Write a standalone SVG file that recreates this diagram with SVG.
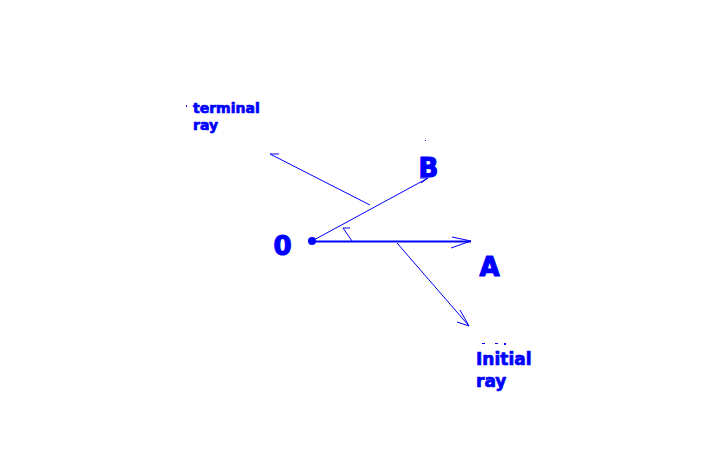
<svg xmlns="http://www.w3.org/2000/svg" width="715" height="464" viewBox="0 0 715 464">
<style>
.t{font-family:"DejaVu Sans","Liberation Sans",sans-serif;font-weight:bold;fill:#0000ff;stroke:#0000ff;stroke-width:0.7;stroke-linejoin:round}
.big{font-size:26px;stroke-width:1.2}
.ln{stroke:#0000ff;stroke-width:1;fill:none}
</style>
<rect width="715" height="464" fill="#fff"/>
<g id="connectors">
<path class="ln" d="M270,154 L370,205"/>
<path class="ln" d="M270,154 L279,154"/>
<path class="ln" d="M312,241 L428,178"/>
<path class="ln" d="M420,178 L428,178 L421,183"/>
<path class="ln" style="stroke-width:2" d="M312,241.5 L471,241.5"/>
<path class="ln" d="M452,237 L471,241 L451,248"/>
<path class="ln" d="M397,243 L469,326"/>
<path class="ln" d="M460,310 L469,326 L457,322"/>
<path class="ln" d="M352,241 L343,228"/>
<path class="ln" d="M343,228 L350,228"/>
</g>
<g id="node-O">
<circle cx="312" cy="241" r="4" fill="#0000ff"/>
<text class="t big" x="273.5" y="255">0</text>
</g>
<g id="node-A">
<text class="t big" x="479.5" y="276">A</text>
</g>
<g id="node-B">
<text class="t big" x="418.5" y="177">B</text>
</g>
<g id="label-terminal">
<rect x="186" y="105" width="1" height="2" fill="#0000ff"/>
<text class="t" x="193" y="113" font-size="14">terminal</text>
<text class="t" x="193" y="130" font-size="14">ray</text>
</g>
<g id="label-initial">
<rect x="482" y="343" width="3" height="1" fill="#0000ff"/>
<rect x="495" y="343" width="3" height="1" fill="#0000ff"/>
<rect x="504" y="343" width="2" height="2" fill="#0000ff"/>
<text class="t" x="476" y="365" font-size="17">Initial</text>
<text class="t" x="476" y="387" font-size="17">ray</text>
</g>
<rect x="425" y="140" width="1" height="1" fill="#0000ff"/>
</svg>
